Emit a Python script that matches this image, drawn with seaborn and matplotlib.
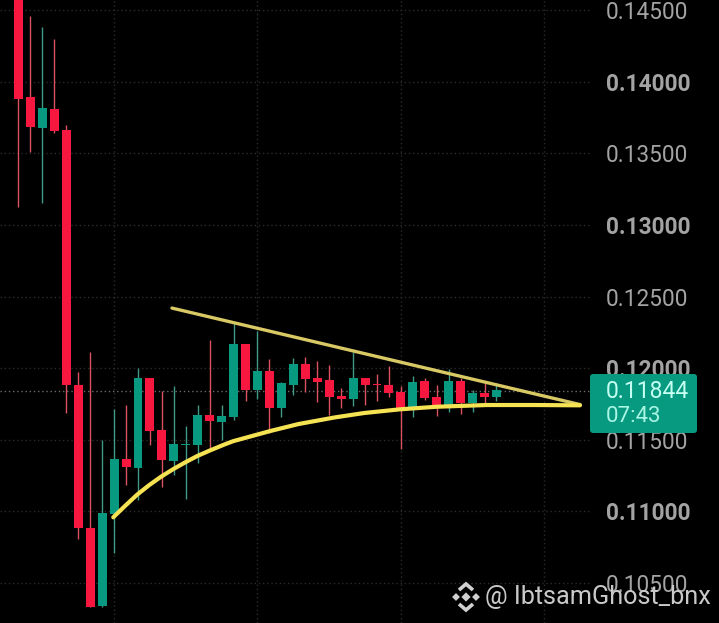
import matplotlib
matplotlib.use("Agg")
import matplotlib.pyplot as plt
from matplotlib.patches import FancyBboxPatch
from matplotlib.transforms import IdentityTransform
import pandas as pd
import seaborn as sns

# candles, first one runs off the top of the picture
opens = [0.14800, 0.13894, 0.13679, 0.13810, 0.13663, 0.11883, 0.10882, 0.10341, 0.10982, 0.11366,
         0.11305, 0.11931, 0.11566, 0.11352, 0.11464, 0.11464, 0.11671, 0.11624, 0.11659, 0.12169,
         0.11848, 0.11980, 0.11724, 0.11883, 0.12027, 0.11931, 0.11915, 0.11806, 0.11785, 0.11931,
         0.11890, 0.11883, 0.11834, 0.11720, 0.11910, 0.11799, 0.11743, 0.11910, 0.11757, 0.11827,
         0.11797]
closes = [0.13882, 0.13686, 0.13817, 0.13658, 0.11880, 0.10886, 0.10334, 0.10987, 0.11366, 0.11312,
          0.11929, 0.11563, 0.11359, 0.11468, 0.11468, 0.11671, 0.11633, 0.11666, 0.12169, 0.11848,
          0.11982, 0.11724, 0.11895, 0.12029, 0.11924, 0.11903, 0.11799, 0.11785, 0.11931, 0.11883,
          0.11885, 0.11829, 0.11720, 0.11903, 0.11792, 0.11743, 0.11910, 0.11757, 0.11827, 0.11799,
          0.11848]
highs = [0.14900, 0.14459, 0.14385, 0.14299, 0.13698, 0.11973, 0.12111, 0.11499, 0.11715, 0.11743,
         0.11999, 0.11931, 0.11843, 0.11873, 0.11596, 0.11743, 0.12197, 0.11743, 0.12325, 0.12169,
         0.12262, 0.12062, 0.11906, 0.12073, 0.12080, 0.12052, 0.12022, 0.11859, 0.12115, 0.11931,
         0.11957, 0.12015, 0.11878, 0.11945, 0.11929, 0.11883, 0.11992, 0.11929, 0.11848, 0.11894,
         0.11894]
lows = [0.13126, 0.13512, 0.13156, 0.13644, 0.11689, 0.10809, 0.10334, 0.10330, 0.10707, 0.11184,
        0.11080, 0.11464, 0.11172, 0.11254, 0.11086, 0.11336, 0.11443, 0.11499, 0.11638, 0.11771,
        0.11783, 0.11545, 0.11661, 0.11813, 0.11836, 0.11762, 0.11673, 0.11724, 0.11736, 0.11743,
        0.11771, 0.11797, 0.11433, 0.11659, 0.11778, 0.11666, 0.11696, 0.11680, 0.11696, 0.11743,
        0.11771]

# trend lines drawn on the chart
upper_x = [12.84, 46.99]
upper_y = [0.12420, 0.11746]
lower_x = [7.93, 8.91, 9.94, 10.94, 11.92, 12.96, 13.96, 14.96, 15.97, 17.22, 17.98,
           20.00, 21.05, 23.42, 26.44, 28.91, 31.92, 35.00, 39.18, 43.05, 46.99]
lower_y = [0.10959, 0.11038, 0.11118, 0.11184, 0.11242, 0.11296, 0.11343, 0.11387, 0.11424, 0.11467, 0.11491,
           0.11537, 0.11561, 0.11610, 0.11656, 0.11687, 0.11713, 0.11731, 0.11743, 0.11743, 0.11741]

price_ticks = [0.105, 0.110, 0.115, 0.120, 0.125, 0.130, 0.135, 0.140, 0.145]
tick_labels = ["0.10500", "0.11000", "0.11500", "0.12000", "0.12500", "0.13000", "0.13500", "0.14000", "0.14500"]
bold_labels = ["0.11000", "0.12000", "0.13000", "0.14000"]
time_ticks = [8, 20, 32, 44]
last_price = 0.11844
last_label = "0.11844"
countdown = "07:43"

RED = "#f8173e"
GREEN = "#089981"
LOGO = "#d0d0d0"

sns.set_theme(style="dark", rc={"axes.facecolor": "black", "figure.facecolor": "black"})
plt.rcParams["font.family"] = ["Roboto", "DejaVu Sans"]

df = pd.DataFrame({"open": opens, "close": closes, "high": highs, "low": lows})
df["i"] = range(len(df))
df["color"] = [GREEN if c >= o else RED for o, c in zip(df["open"], df["close"])]
df["wick"] = ["#3f9a88" if c >= o else "#d9535f" for o, c in zip(df["open"], df["close"])]

fig = plt.figure(figsize=(7.19, 6.23), dpi=100)
ax = fig.add_axes([0, 0, 1, 1])

# grid stops where the price scale starts
ax.hlines(price_ticks, 0, 590 / 719, transform=ax.get_yaxis_transform(), color="#2b2b2b",
          linestyle=(0, (1, 2)), linewidth=1, zorder=1)
ax.vlines(time_ticks, 0, 1, transform=ax.get_xaxis_transform(), color="#2b2b2b",
          linestyle=(0, (1, 2)), linewidth=1, zorder=1)
ax.hlines([last_price], 0, 590 / 719, transform=ax.get_yaxis_transform(), color="#6a6a6a",
          linestyle=(0, (1, 2)), linewidth=1, zorder=1)

ax.vlines(df["i"], df["low"], df["high"], color=df["wick"], linewidth=1, zorder=2)
ax.bar(df["i"], (df["close"] - df["open"]).abs(), bottom=df[["open", "close"]].min(axis=1),
       width=0.75, color=df["color"], linewidth=0, zorder=3)

sns.lineplot(x=upper_x, y=upper_y, ax=ax, color="#d9c964", linewidth=2.4, zorder=4)
sns.lineplot(x=lower_x, y=lower_y, ax=ax, color="#f6e354", linewidth=3, zorder=4, sort=False, estimator=None)

ax.set_xlim(-1.548, 58.62)
ax.set_ylim(0.10221, 0.14571)
ax.set_xticks([])
ax.set_yticks(price_ticks, tick_labels)
ax.yaxis.tick_right()
ax.tick_params(axis="y", length=0, pad=-81.5, labelsize=16.3, labelcolor="#a3a3a3")
for label in ax.get_yticklabels():
    if label.get_text() in bold_labels:
        label.set_fontweight("bold")
ax.set_axisbelow(True)
sns.despine(ax=ax, left=True, bottom=True)
ax.spines["top"].set_visible(False)
ax.spines["right"].set_visible(False)

# last price tag, placed in pixels
pix = IdentityTransform()
ax.add_patch(FancyBboxPatch((592, 192), 103, 55, boxstyle="round,pad=2,rounding_size=3",
                            transform=pix, facecolor=GREEN, edgecolor="none", zorder=5))
ax.text(606, 231, last_label, transform=pix, color="#c4fff2", fontsize=16.5, va="center", ha="left", zorder=6)
ax.text(606, 206, countdown, transform=pix, color="#a8f5e4", fontsize=16, va="center", ha="left", zorder=6)

# watermark with the small diamond logo, middle and side diamonds plus two chevrons
ax.scatter([466, 456, 476], [26, 26, 26], marker="D", s=[22, 16, 16], color=LOGO, transform=pix,
           zorder=6, linewidths=0)
ax.plot([459, 466, 473], [33, 39, 33], color=LOGO, linewidth=2.6, transform=pix, zorder=6,
        solid_joinstyle="miter", solid_capstyle="butt")
ax.plot([459, 466, 473], [19, 13, 19], color=LOGO, linewidth=2.6, transform=pix, zorder=6,
        solid_joinstyle="miter", solid_capstyle="butt")
ax.text(485, 26, "@ IbtsamGhost_bnx", transform=pix, color="#c9c9c9", fontsize=18.2, va="center", ha="left", zorder=6)

fig.savefig("out.png", dpi=100, facecolor="black")
